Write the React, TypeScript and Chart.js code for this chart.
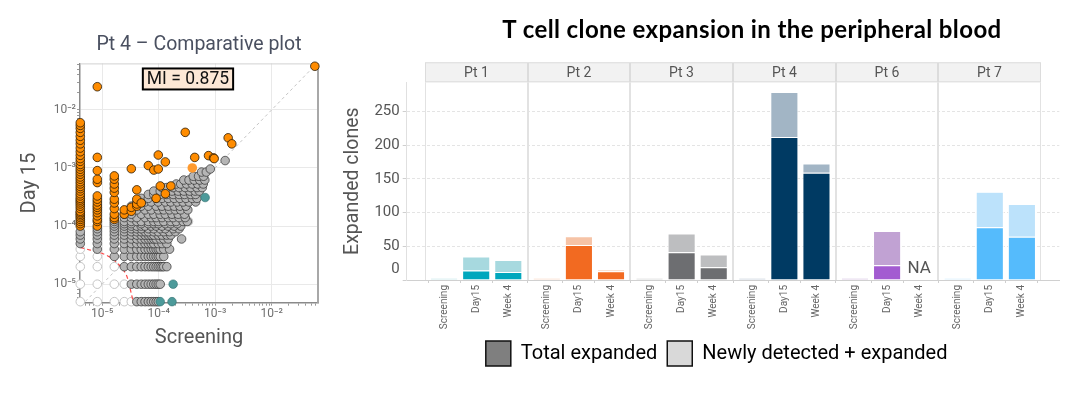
import React, { useEffect, useRef } from 'react';
import { Chart, registerables } from 'chart.js';

Chart.register(...registerables);

// ================= Left panel: Pt 4 comparative plot =================
const scatterTitle = 'Pt 4 – Comparative plot';
const scatterXTitle = 'Screening';
const scatterYTitle = 'Day 15';
const miText = 'MI = 0.875';
const screeningDepth = 122000; // reads in screening sample
const day15Depth = 100000; // reads in day-15 sample

// expanded clones: [screening count, list of day-15 counts]
const expandedColumns: [number, number[]][] = [
  [0.5, [10, 11, 12, 13, 14, 15, 16, 17, 18, 20, 22, 24, 26, 28, 30, 33, 36, 40, 44, 48, 53, 58, 64, 70, 78, 86, 95, 105, 115, 130, 145, 165, 190, 220, 260, 300, 350, 410, 480, 540, 600]],
  [1, [10, 12, 13, 15, 17, 19, 21, 23, 26, 29, 33, 56, 64, 90, 152, 2500]],
  [2, [13, 14, 16, 20, 25, 29, 38, 45, 53, 64, 73]],
  [3, [16, 19]],
  [4, [18, 21, 97]],
  [5, [22, 24, 29, 42]],
  [6, [25]],
  [8, [110]],
  [10, [92]],
  [11, [30]],
  [12, [96, 167]],
  [13, [49]],
  [16, [36, 127]],
  [20, [49]],
  [36, [410]],
  [53, [152]],
  [93, [163]],
  [114, [149]],
  [117, [145]],
  [207, [330]],
  [240, [260]],
  [7080, [5630]],
];
const expandedUnoutlined: [number, number][] = [[48, 100]];

// stable clones: [day-15 count, list of screening counts]
const stableRows: [number, number[]][] = [
  [0.5, [5, 6, 7, 8, 9, 10, 11, 12]],
  [1, [4, 5, 6, 7, 8, 9, 10, 11, 12, 13]],
  [2, [3, 4, 5, 6, 7, 8, 9, 10, 11, 12, 13, 14, 15, 17]],
  [3, [2, 3, 4, 5, 6, 7, 8, 9, 10, 11, 12, 13, 15]],
  [4, [1, 2, 3, 4, 5, 6, 7, 8, 9, 10, 11, 12, 13, 15, 19]],
  [5, [0.5, 1, 2, 3, 4, 5, 6, 7, 8, 9, 10, 12, 14, 17]],
  [6, [0.5, 1, 2, 3, 4, 5, 6, 7, 8, 9, 10, 11, 13, 15, 18, 31]],
  [7, [0.5, 1, 2, 3, 4, 5, 6, 7, 8, 9, 10, 12, 14, 17, 20]],
  [8, [0.5, 1, 2, 3, 4, 5, 6, 7, 8, 10, 12, 15, 19, 24]],
  [9, [1, 2, 3, 4, 5, 6, 8, 10, 13, 16, 22, 28]],
  [10, [2, 3, 4, 5, 6, 7, 9, 11, 14, 18, 23, 30]],
  [11, [2, 3, 4, 6, 8, 10, 12, 16, 20, 26]],
  [12, [2, 3, 4, 5, 6, 8, 10, 12, 15, 20, 25, 33, 39]],
  [14, [3, 4, 5, 7, 9, 11, 14, 18, 22, 28, 36]],
  [16, [3, 4, 6, 8, 10, 13, 16, 21, 27, 35]],
  [19, [4, 5, 7, 9, 12, 15, 19, 24, 30, 40]],
  [22, [4, 6, 8, 11, 14, 18, 23, 29, 37]],
  [26, [5, 7, 9, 12, 16, 20, 26, 33, 42, 55]],
  [30, [6, 8, 11, 14, 18, 23, 29, 37, 48, 58]],
  [35, [8, 10, 13, 17, 22, 28, 35, 45, 55]],
  [40, [10, 13, 17, 21, 27, 34, 43, 54, 64]],
  [46, [14, 17, 22, 28, 36, 45, 58, 72]],
  [53, [25, 30, 38, 48, 60, 75]],
  [62, [34, 42, 52, 65, 80]],
  [72, [50, 62, 76]],
  [85, [70, 85]],
  [96, [100]],
  [134, [183]],
];
const stableUnoutlined: [number, number][] = [[41, 12], [71, 76]];
// contracted clones: [screening count, day-15 count]
const contractedClones: [number, number][] = [[13, 0.5], [21, 0.5], [22, 1], [81, 31]];
// clones below detection threshold: [screening count, day-15 count]
const lowCountClones: [number, number][] = [
  [0.5, 0.5], [0.5, 1], [0.5, 2], [0.5, 3], [0.5, 4],
  [1, 0.5], [1, 1], [1, 2], [1, 3],
  [2, 0.5], [2, 1], [2, 2],
  [3, 0.5], [3, 1],
  [4, 0.5],
];
// threshold curve in counts
const thresholdCurve: [number, number][] = [[0.5, 4.3], [1.7, 2.9], [2.6, 2.0], [3.2, 1.5], [3.4, 1.3], [4.1, 0.62], [4.4, 0.46]];
// identity line in frequencies
const identityLine: [number, number][] = [[1e-7, 1e-7], [1, 1]];
const miAnchor = { x: 3.3e-4, y: 0.034 };

const scatterMajorTicks = [1e-5, 1e-4, 1e-3, 1e-2];
const scatterMajorLabels = ['10⁻⁵', '10⁻⁴', '10⁻³', '10⁻²'];

// ================= Right panel: clone expansion bars =================
const barTitle = 'T cell clone expansion in the peripheral blood';
const barYTitle = 'Expanded clones';
const patients = ['Pt 1', 'Pt 2', 'Pt 3', 'Pt 4', 'Pt 6', 'Pt 7'];
const timepoints = ['Screening', 'Day15', 'Week 4'];
const totalExpanded: (number | null)[][] = [
  [0, 14, 12],
  [0, 52, 13],
  [0, 41, 19],
  [0, 212, 159],
  [0, 22, null],
  [0, 78, 64],
];
const newlyDetectedExpanded: (number | null)[][] = [
  [2.5, 20, 17],
  [2.5, 12, 2],
  [2.5, 27, 18],
  [2.5, 66, 13],
  [2.5, 50, null],
  [2.5, 52, 48],
];
const yTickValues = [0, 50, 100, 150, 200, 250];
const legendLabels = ['Total expanded', 'Newly detected + expanded'];
const naLabel = 'NA';

// styles
const darkColors = ['#00a7bd', '#f26a21', '#6d6e71', '#003a63', '#a35bd1', '#55bbfc'];
const lightColors = ['#a7d9df', '#f6c3a6', '#bdbec0', '#a2b5c5', '#c1a2d3', '#bce2fb'];
const legendFills = ['#7f7f7f', '#d9d9d9'];
const panelSpan = 3.2;
const panelPad = 0.6;
const stripHeight = 20;
const FONT = 'Roboto';

// ---------- helpers ----------
const toFreq = (pairs: [number, number][]) =>
  pairs.map(([s, d]) => ({ x: s / screeningDepth, y: d / day15Depth }));
const fromColumns = (cols: [number, number[]][]) =>
  cols.flatMap(([s, ds]) => ds.map((d) => [s, d] as [number, number]));
const fromRows = (rows: [number, number[]][]) =>
  rows.flatMap(([d, ss]) => ss.map((s) => [s, d] as [number, number]));

const majorIndex = (v: number) => scatterMajorTicks.findIndex((t) => Math.abs(v / t - 1) < 1e-9);
const logTickValues = (min: number, max: number) => {
  const out: number[] = [];
  for (let e = -7; e <= 0; e++) {
    for (let m = 1; m <= 9; m++) {
      const v = m * Math.pow(10, e);
      if (v >= min && v <= max) out.push(v);
    }
  }
  return out;
};

const logAxis = (min: number, max: number) => ({
  type: 'logarithmic' as const,
  min,
  max,
  afterBuildTicks: (s: any) => {
    s.ticks = logTickValues(s.min, s.max).map((v) => ({ value: v, major: majorIndex(v) >= 0 }));
  },
  ticks: {
    autoSkip: false,
    minRotation: 0,
    maxRotation: 0,
    padding: 1,
    color: '#707070',
    font: { family: FONT, size: 12 },
    callback: (v: any) => {
      const i = majorIndex(Number(v));
      return i >= 0 ? scatterMajorLabels[i] : '';
    },
  },
  grid: {
    color: (c: any) => (c.tick && majorIndex(c.tick.value) >= 0 ? '#e9e9e9' : 'rgba(0,0,0,0)'),
    tickColor: '#9a9a9a',
    tickLength: 3,
    lineWidth: 1,
  },
  border: { display: true, color: '#8a8a8a', width: 1.5 },
});

const scatterFramePlugin = {
  id: 'scatterFrame',
  beforeDatasetsDraw(chart: any) {
    const { ctx, chartArea: a } = chart;
    ctx.save();
    ctx.strokeStyle = '#d2d2d2';
    ctx.lineWidth = 1;
    ctx.beginPath();
    ctx.moveTo(a.left, a.top + 0.5);
    ctx.lineTo(a.right, a.top + 0.5);
    ctx.stroke();
    ctx.strokeStyle = '#a8a8a8';
    ctx.lineWidth = 2;
    ctx.beginPath();
    ctx.moveTo(a.right, a.top);
    ctx.lineTo(a.right, a.bottom);
    ctx.stroke();
    ctx.restore();
  },
  afterDatasetsDraw(chart: any) {
    const { ctx, scales } = chart;
    const cx = scales.x.getPixelForValue(miAnchor.x);
    const cy = scales.y.getPixelForValue(miAnchor.y);
    ctx.save();
    ctx.font = `17.5px ${FONT}`;
    const w = ctx.measureText(miText).width + 8;
    const h = 21;
    ctx.fillStyle = '#fde8d6';
    ctx.fillRect(cx - w / 2, cy - h / 2, w, h);
    ctx.strokeStyle = '#000';
    ctx.lineWidth = 2;
    ctx.strokeRect(cx - w / 2, cy - h / 2, w, h);
    ctx.fillStyle = '#111';
    ctx.textAlign = 'center';
    ctx.textBaseline = 'middle';
    ctx.fillText(miText, cx, cy + 1);
    ctx.restore();
  },
};

const facetPlugin = {
  id: 'facetStrips',
  beforeDatasetsDraw(chart: any) {
    const { ctx, chartArea: a, scales } = chart;
    const x = scales.x;
    const top = a.top - stripHeight;
    ctx.save();
    patients.forEach((name, p) => {
      const l = Math.round(x.getPixelForValue(p * panelSpan - panelPad));
      const r = Math.round(x.getPixelForValue(p * panelSpan + timepoints.length - 1 + panelPad));
      ctx.fillStyle = '#f2f2f2';
      ctx.fillRect(l, top, r - l, stripHeight);
      ctx.strokeStyle = '#dcdcdc';
      ctx.lineWidth = 1;
      ctx.strokeRect(l + 0.5, top + 0.5, r - l - 1, stripHeight - 1);
      ctx.strokeStyle = '#e2e2e2';
      ctx.beginPath();
      ctx.moveTo(l + 0.5, a.top);
      ctx.lineTo(l + 0.5, a.bottom);
      ctx.moveTo(r - 0.5, a.top);
      ctx.lineTo(r - 0.5, a.bottom);
      ctx.stroke();
      ctx.fillStyle = '#555';
      ctx.font = `14px ${FONT}`;
      ctx.textAlign = 'center';
      ctx.textBaseline = 'middle';
      ctx.fillText(name, (l + r) / 2, top + stripHeight / 2 + 1);
    });
    ctx.restore();
  },
  afterDatasetsDraw(chart: any) {
    const { ctx, scales } = chart;
    ctx.save();
    ctx.fillStyle = '#555';
    ctx.font = `17px ${FONT}`;
    ctx.textAlign = 'center';
    ctx.textBaseline = 'alphabetic';
    totalExpanded.forEach((row, p) =>
      row.forEach((v, t) => {
        if (v === null) {
          const px = scales.x.getPixelForValue(p * panelSpan + t);
          const py = scales.y.getPixelForValue(0) - 7;
          ctx.fillText(naLabel, px, py);
        }
      })
    );
    ctx.restore();
  },
};

const tickPositions = patients.flatMap((_, p) => timepoints.map((_, t) => p * panelSpan + t));
const tickNames = patients.flatMap(() => timepoints);

export default function App() {
  const leftRef = useRef<HTMLCanvasElement>(null);
  const rightRef = useRef<HTMLCanvasElement>(null);

  useEffect(() => {
    const pointBase = { pointRadius: 4.3, pointHoverRadius: 4.3, clip: false as const, showLine: false };
    const left = new Chart(leftRef.current as HTMLCanvasElement, {
      type: 'scatter',
      data: {
        datasets: [
          { ...pointBase, label: 'expanded', data: toFreq(fromColumns(expandedColumns)), backgroundColor: '#ff8c00', borderColor: '#2a1c08', borderWidth: 0.8, order: 1 },
          { ...pointBase, label: 'expanded2', data: toFreq(expandedUnoutlined), backgroundColor: '#ff9a2e', borderWidth: 0, pointRadius: 4.8, order: 1 },
          { ...pointBase, label: 'contracted', data: toFreq(contractedClones), backgroundColor: '#4d9a9a', borderColor: '#2f6e6e', borderWidth: 0.6, order: 2 },
          { ...pointBase, label: 'stable', data: toFreq(fromRows(stableRows)), backgroundColor: '#b5b5b5', borderColor: '#2e2e2e', borderWidth: 0.7, order: 3 },
          { ...pointBase, label: 'stable2', data: toFreq(stableUnoutlined), backgroundColor: '#c9c9c9', borderWidth: 0, pointRadius: 4.8, order: 3 },
          { label: 'threshold', data: toFreq(thresholdCurve), showLine: true, pointRadius: 0, borderColor: '#ff4a4a', borderDash: [4, 3], borderWidth: 1.2, cubicInterpolationMode: 'monotone', order: 4, clip: 0 } as any,
          { ...pointBase, label: 'low', data: toFreq(lowCountClones), backgroundColor: '#ffffff', borderColor: '#c4c4c4', borderWidth: 1, order: 5 },
          { label: 'identity', data: identityLine.map(([x, y]) => ({ x, y })), showLine: true, pointRadius: 0, borderColor: '#c4c4c4', borderDash: [3, 3], borderWidth: 1, order: 6, clip: 0 } as any,
        ],
      },
      options: {
        responsive: false,
        animation: false,
        devicePixelRatio: 1,
        events: [],
        parsing: false,
        normalized: false,
        layout: { padding: { left: 0, right: 22, top: 0, bottom: 0 }, autoPadding: false },
        plugins: {
          legend: { display: false },
          tooltip: { enabled: false },
          title: {
            display: true,
            text: scatterTitle,
            fullSize: false,
            color: '#4a5060',
            font: { family: FONT, size: 19.5, weight: 'normal' },
            padding: { top: 33, bottom: 7 },
          },
        },
        scales: {
          x: {
            ...logAxis(4.05e-6, 0.066),
            afterFit: (s: any) => { s.height = 92.3; },
            title: { display: true, text: scatterXTitle, color: '#555', font: { family: FONT, size: 20 }, padding: { top: 0, bottom: 45 } },
          } as any,
          y: {
            ...logAxis(4.8e-6, 0.063),
            afterFit: (s: any) => { s.width = 80; },
            title: { display: true, text: scatterYTitle, color: '#555', font: { family: FONT, size: 20 }, padding: { top: 18, bottom: 0 } },
          } as any,
        },
      },
      plugins: [scatterFramePlugin],
    });

    const barPoint = (series: (number | null)[][]) =>
      series.flatMap((row, p) => row.map((v, t) => ({ x: p * panelSpan + t, y: v })));
    const perBar = (cols: string[]) => patients.flatMap((_, p) => timepoints.map(() => cols[p]));

    const right = new Chart(rightRef.current as HTMLCanvasElement, {
      type: 'bar',
      data: {
        datasets: [
          {
            label: legendLabels[0],
            data: barPoint(totalExpanded) as any,
            backgroundColor: perBar(darkColors),
            borderColor: '#ffffff',
            borderWidth: { top: 1, left: 1, right: 1, bottom: 0 },
            borderSkipped: false,
            categoryPercentage: 1,
            barPercentage: 0.875,
            stack: 's',
          },
          {
            label: legendLabels[1],
            data: barPoint(newlyDetectedExpanded) as any,
            backgroundColor: perBar(lightColors),
            borderColor: '#ffffff',
            borderWidth: { top: 0.5, left: 1, right: 1, bottom: 0 },
            borderSkipped: false,
            categoryPercentage: 1,
            barPercentage: 0.875,
            stack: 's',
          },
        ],
      },
      options: {
        responsive: false,
        animation: false,
        devicePixelRatio: 1,
        events: [],
        layout: { padding: { top: 82.3, right: 20.7, bottom: 19, left: 34 }, autoPadding: false },
        plugins: {
          tooltip: { enabled: false },
          title: { display: false },
          legend: {
            display: true,
            position: 'bottom',
            labels: {
              boxWidth: 25,
              boxHeight: 25,
              padding: 10,
              color: '#555',
              font: { family: FONT, size: 20 },
              generateLabels: () =>
                legendLabels.map((text, i) => ({
                  text,
                  fillStyle: legendFills[i],
                  strokeStyle: '#111',
                  lineWidth: 1.5,
                  hidden: false,
                  datasetIndex: i,
                })),
            },
          },
        },
        scales: {
          x: {
            type: 'linear',
            min: -panelPad,
            max: (patients.length - 1) * panelSpan + timepoints.length - 1 + panelPad,
            stacked: true,
            afterBuildTicks: (s: any) => { s.ticks = tickPositions.map((v) => ({ value: v })); },
            afterFit: (s: any) => { s.height = 51; },
            ticks: {
              autoSkip: false,
              minRotation: 90,
              maxRotation: 90,
              padding: 2,
              color: '#666',
              font: { family: FONT, size: 10 },
              callback: (_v: any, i: number) => tickNames[i],
            },
            grid: { display: true, drawOnChartArea: false, drawTicks: true, tickLength: 3, tickColor: '#cfcfcf', offset: true },
            border: { display: true, color: '#d0d0d0', width: 1 },
          } as any,
          y: {
            min: 0,
            max: 293,
            stacked: true,
            afterBuildTicks: (s: any) => { s.ticks = yTickValues.map((v) => ({ value: v })); },
            afterFit: (s: any) => { s.width = 32.7; },
            ticks: {
              autoSkip: false,
              color: '#555',
              padding: 3,
              font: { family: FONT, size: 15, lineHeight: 1.45 },
              callback: (v: any) => (Number(v) === 0 ? ['0', ''] : String(v)),
            },
            grid: { color: '#e4e4e4', tickColor: '#cfcfcf', tickLength: 4, lineWidth: 1 },
            border: { display: true, color: '#e0e0e0', dash: [3, 2] },
            title: { display: true, text: barYTitle, color: '#555', font: { family: FONT, size: 19.5 }, padding: { top: -32.5, bottom: 0 } },
          } as any,
        },
      },
      plugins: [facetPlugin],
    });

    return () => {
      left.destroy();
      right.destroy();
    };
  }, []);

  return (
    <div style={{ position: 'absolute', left: 0, top: 0, width: 1080, height: 395, background: '#fff', overflow: 'hidden' }}>
      <canvas ref={leftRef} width={340} height={395} style={{ position: 'absolute', left: 0, top: 0, width: 340, height: 395 }} />
      <canvas ref={rightRef} width={740} height={395} style={{ position: 'absolute', left: 340, top: 0, width: 740, height: 395 }} />
      <div
        style={{
          position: 'absolute',
          left: 752,
          top: 14,
          transform: 'translateX(-50%)',
          fontFamily: 'Lato, sans-serif',
          fontWeight: 700,
          fontSize: 24,
          letterSpacing: '0.4px',
          lineHeight: '30px',
          color: '#000',
          whiteSpace: 'nowrap',
        }}
      >
        {barTitle}
      </div>
    </div>
  );
}
